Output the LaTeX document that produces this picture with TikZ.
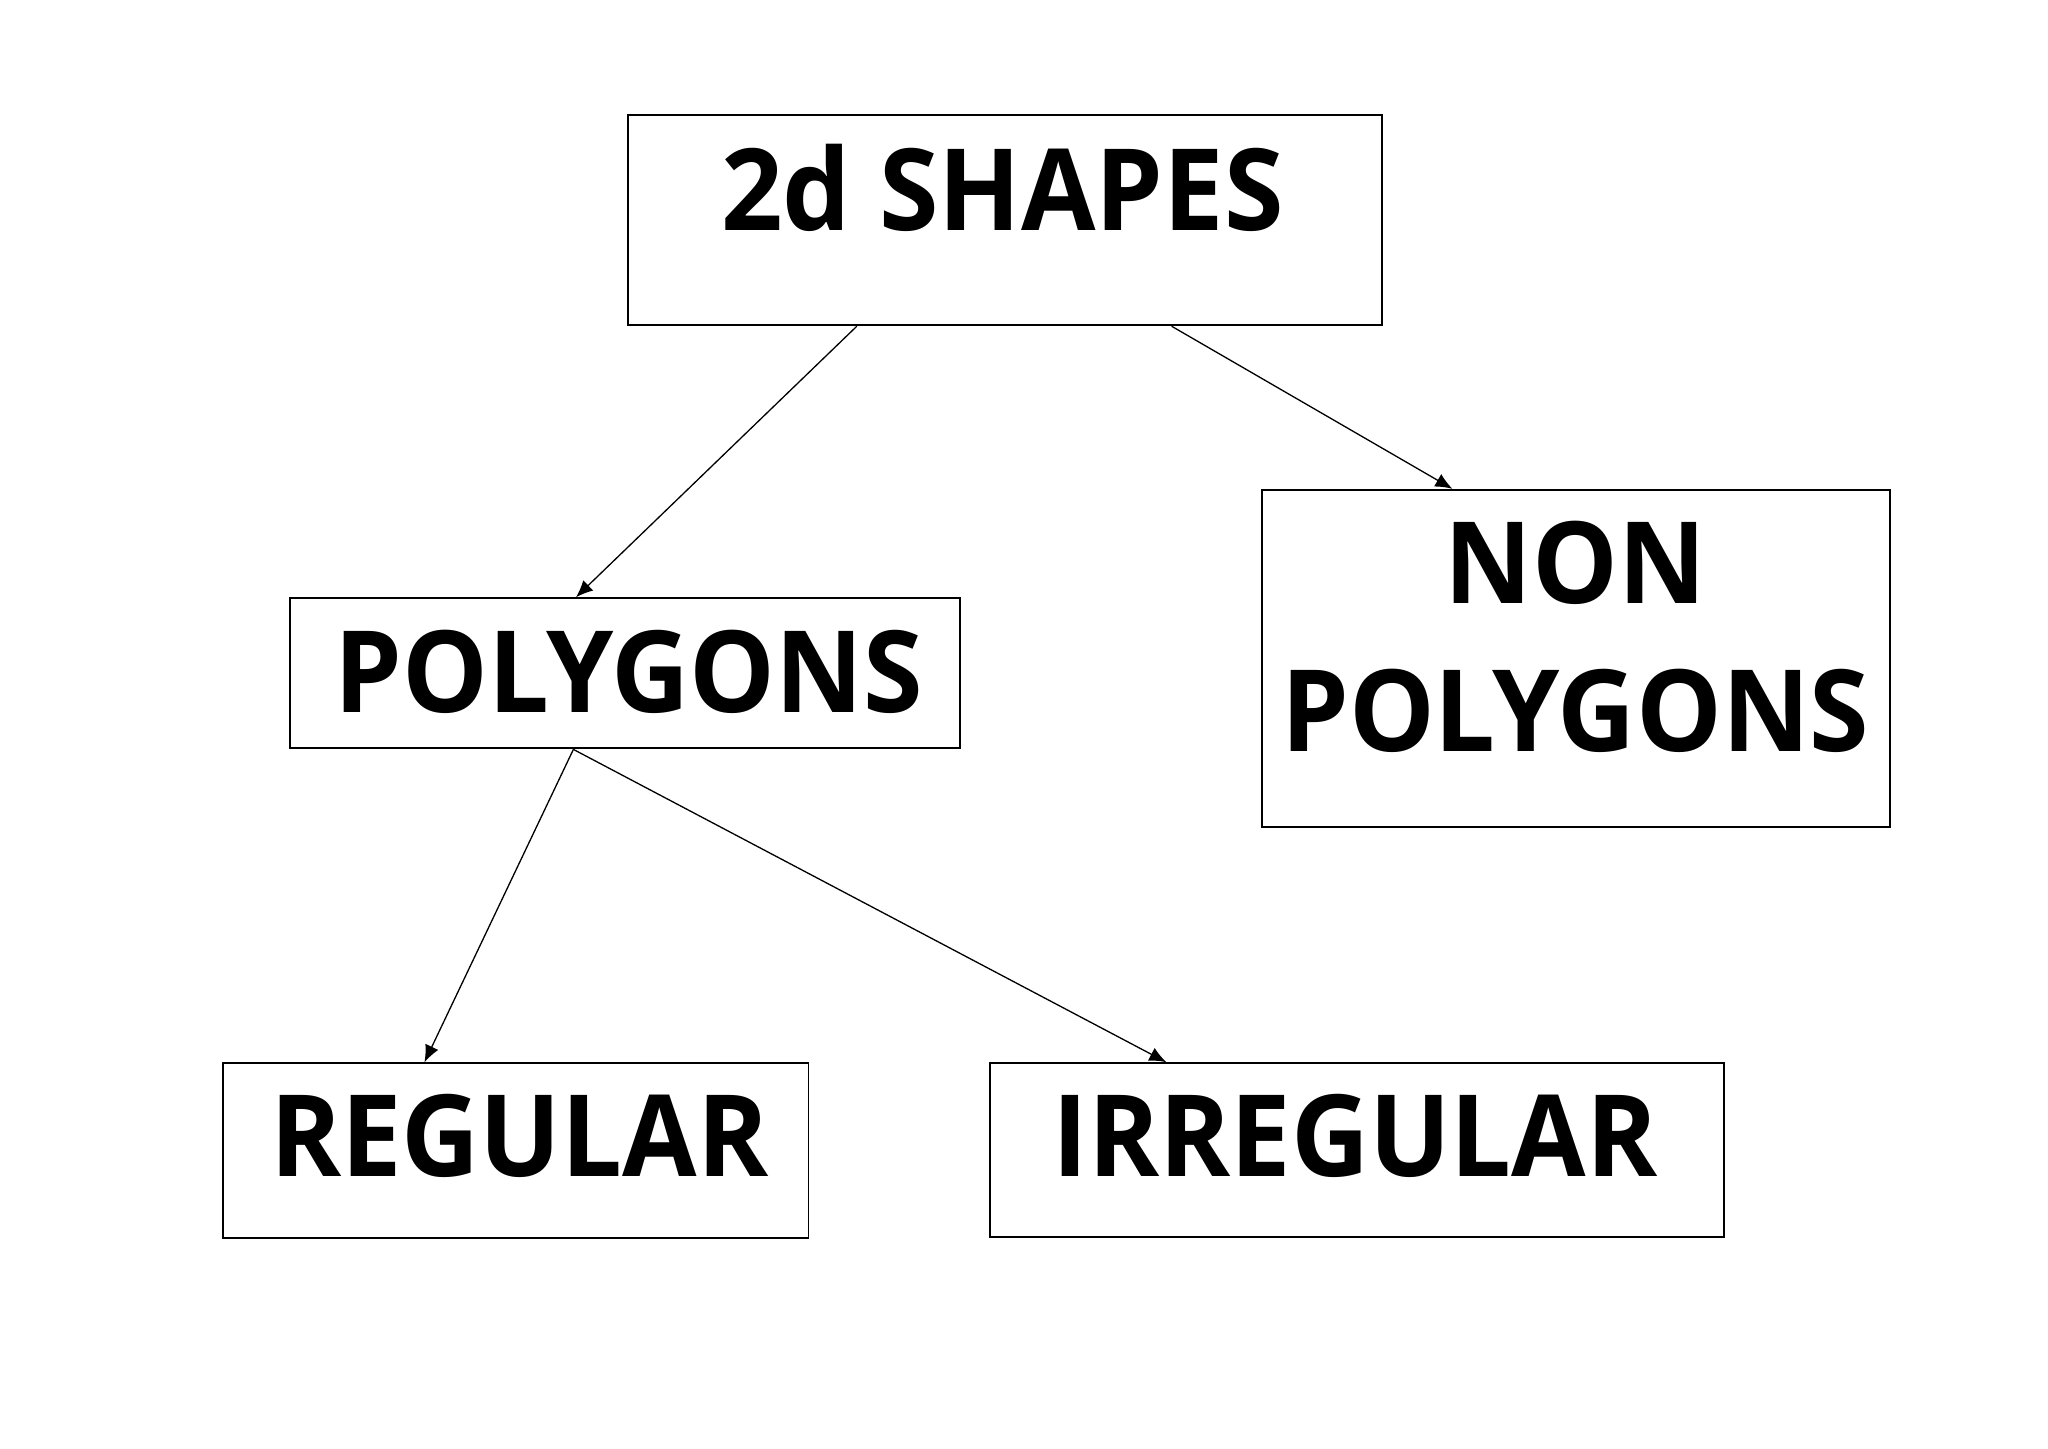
\documentclass[tikz,border=0pt]{standalone}
\usepackage{fontspec}
\setmainfont[FakeStretch=0.95]{Open Sans}
\usetikzlibrary{arrows.meta}
\begin{document}
\begin{tikzpicture}[x=0.5pt,y=-0.5pt,
  box/.style={draw,line width=0.75pt,inner sep=0pt},
  lbl/.style={font=\fontsize{43.5}{56.5}\selectfont\bfseries,inner sep=0pt,align=center},
  conn/.style={line width=0.5pt,-{Latex[length=6.5pt,width=5.5pt]}}]
\useasboundingbox (0,0) rectangle (1568,1108.7);
\node[box,minimum width=288.5pt,minimum height=80.5pt] (top) at (769.5,168.5) {};
\node[box,minimum width=240.5pt,minimum height=129pt] (non) at (1206.5,504) {};
\node[box,minimum width=256.5pt,minimum height=57.5pt] (poly) at (478.5,515.5) {};
\node[box,minimum width=224pt,minimum height=67pt] (reg) at (395,881) {};
\node[box,minimum width=281pt,minimum height=66.5pt] (irr) at (1039,880.5) {};
\node[lbl] (topT) at (767.5,144) {2d SHAPES};
\node[lbl] (nonT) at (1206,487.5) {NON\\POLYGONS};
\node[lbl] (polyT) at (481.5,514.5) {POLYGONS};
\node[lbl] (regT) at (397.5,870) {REGULAR};
\node[lbl] (irrT) at (1037.5,870) {IRREGULAR};
\coordinate (t1) at ([xshift=-56.75pt]top.south);
\coordinate (t2) at ([xshift=63.75pt]top.south);
\coordinate (p0) at ([xshift=-19.75pt]poly.south);
\coordinate (pn) at ([xshift=-18.75pt]poly.north);
\coordinate (nn) at ([xshift=-47.25pt]non.north);
\coordinate (rn) at ([xshift=-35pt]reg.north);
\coordinate (in) at ([xshift=-73pt]irr.north);
\draw[conn] (t1) -- (pn);
\draw[conn] (t2) -- (nn);
\draw[conn] (p0) -- (rn);
\draw[conn] (p0) -- (in);
\end{tikzpicture}
\end{document}
